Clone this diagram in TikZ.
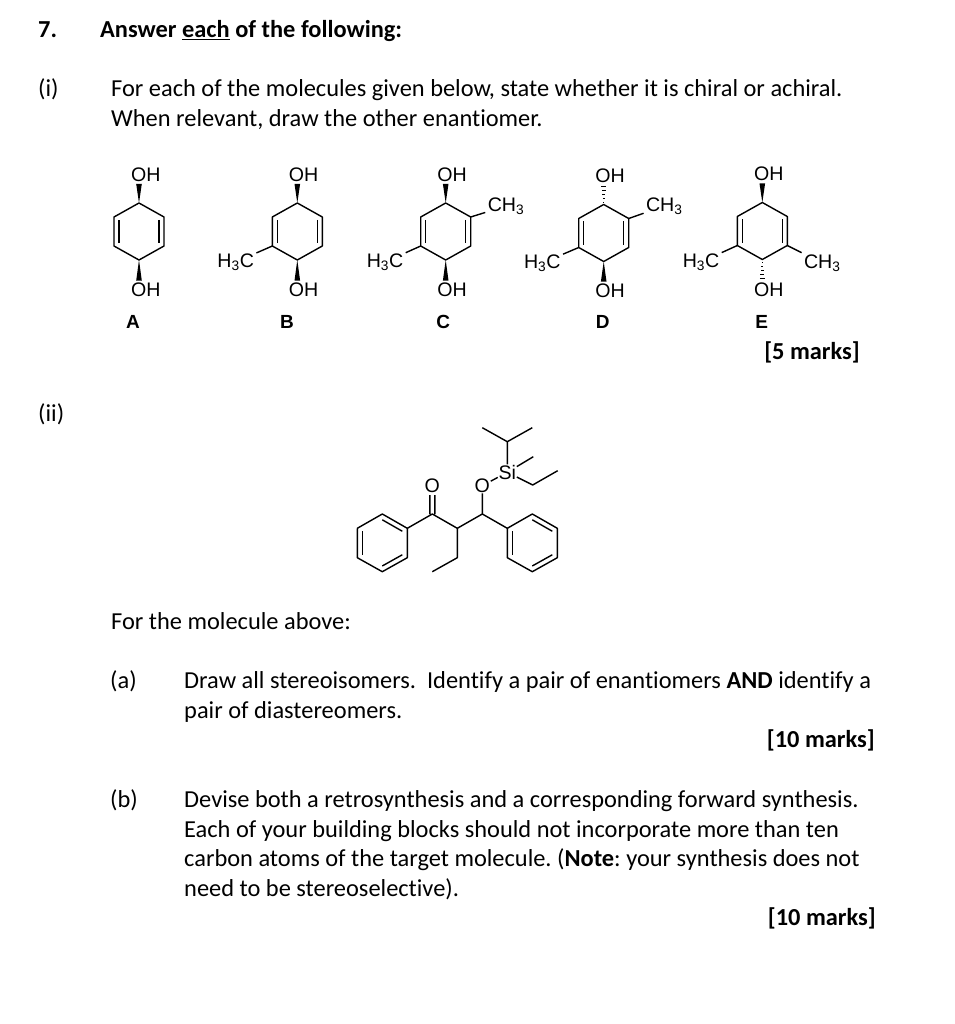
\documentclass[tikz,border=0pt]{standalone}
\usepackage{fontspec}
\setmainfont[Ligatures=NoCommon]{Carlito}
\newfontfamily\chemfont{Liberation Sans}
\usetikzlibrary{calc}
\newcommand{\bodysize}{24.4pt}
\frenchspacing
\tikzset{
  bond/.style={line width=1.4pt},
  atom/.style={font=\chemfont\fontsize{19.6pt}{19.6pt}\selectfont, inner sep=2.3pt},
  letter/.style={font=\chemfont\bfseries\fontsize{19pt}{19pt}\selectfont},
  line/.style={anchor=base west, inner sep=0pt, font=\fontsize{\bodysize}{\bodysize}\selectfont},
  marks/.style={anchor=base east, inner sep=0pt, font=\bfseries\fontsize{\bodysize}{\bodysize}\selectfont}
}
% inner line of a double bond
\newcommand{\inbond}[3]{\draw[bond] ($(#1)!.2!(#3)$) to ($(#2)!.2!(#3)$);}
\newcommand{\wedgebond}[2]{\fill (#1) -- ($(#2)+(-2.8pt,0)$) -- ($(#2)+(2.8pt,0)$) -- cycle;}
\newcommand{\hashbond}[2]{\foreach \t/\w in {.12/.5,.32/.9,.52/1.4,.72/1.9,.92/2.4}
  \draw[line width=.9pt] ($(#1)!\t!(#2)+(-\w pt,0)$) to ($(#1)!\t!(#2)+(\w pt,0)$);}
% six ring with its two long double bonds, top corner at #2,#3
\newcommand{\dienering}[3]{
\coordinate (#1a) at (#2,#3);
\coordinate (#1b) at (#2+25,#3+14);
\coordinate (#1c) at (#2+25,#3+43);
\coordinate (#1d) at (#2,#3+57);
\coordinate (#1e) at (#2-25,#3+43);
\coordinate (#1f) at (#2-25,#3+14);
\coordinate (#1m) at (#2,#3+28.5);
\draw[bond,line join=round] (#1a) to (#1b) to (#1c) to (#1d) to (#1e) to (#1f) to (#1a);
\inbond{#1b}{#1c}{#1m}
\inbond{#1e}{#1f}{#1m}
}

\begin{document}
\begin{tikzpicture}[x=1pt,y=-1pt]
\useasboundingbox (0,0) rectangle (954,1024);

\node (q7) at (38,38) [line] {\textbf{7.}};
\node (qhead) at (100,38) [line] {\textbf{Answer \underline{each} of the following:}};
\node (pi) at (38,97) [line] {(i)};
\node (pia) at (111,97) [line] {For each of the molecules given below, state whether it is chiral or achiral.};
\node (pib) at (111,127) [line] {When relevant, draw the other enantiomer.};
\node (mark5) at (860,359) [marks] {[5 marks]};
\node (pii) at (38,421) [line] {(ii)};
\node (above) at (111,629) [line] {For the molecule above:};
\node (pa) at (110,688) [line] {(a)};
\node (paa) at (184,688) [line] {Draw all stereoisomers.\ \ Identify a pair of enantiomers \textbf{AND} identify a};
\node (pab) at (184,718) [line] {pair of diastereomers.};
\node (mark10a) at (875,747) [marks] {[10 marks]};
\node (pb) at (110,807) [line] {(b)};
\node (pba) at (184,807) [line] {Devise both a retrosynthesis and a corresponding forward synthesis.};
\node (pbb) at (184,837) [line] {Each of your building blocks should not incorporate more than ten};
\node (pbc) at (184,866) [line] {carbon atoms of the target molecule. (\textbf{Note}: your synthesis does not};
\node (pbd) at (184,896) [line] {need to be stereoselective).};
\node (mark10b) at (876,925) [marks] {[10 marks]};

% the five diols
\dienering{A}{139}{203}
\dienering{B}{297.3}{203}
\dienering{C}{445.7}{203}
\dienering{D}{603.7}{204.5}
\dienering{E}{762.3}{202.5}

\node (Atop) at (145.7,174.5) [atom] {OH};
\node (Abot) at (145.7,290) [atom] {OH};
\node (Btop) at (303.5,174.5) [atom] {OH};
\node (Bbot) at (303.5,290) [atom] {OH};
\node (Ctop) at (452,174.5) [atom] {OH};
\node (Cbot) at (452,290) [atom] {OH};
\node (Dtop) at (610,175.5) [atom] {OH};
\node (Dbot) at (610,291) [atom] {OH};
\node (Etop) at (768.7,174) [atom] {OH};
\node (Ebot) at (768.7,289.5) [atom] {OH};

\node (Bme) at (235.7,262) [atom] {H\textsubscript{3}C};
\node (Cme) at (385,262) [atom] {H\textsubscript{3}C};
\node (Cmf) at (506,206) [atom] {CH\textsubscript{3}};
\node (Dme) at (542.3,263) [atom] {H\textsubscript{3}C};
\node (Dmf) at (664.3,206) [atom] {CH\textsubscript{3}};
\node (Eme) at (701,262) [atom] {H\textsubscript{3}C};
\node (Emf) at (822.3,263) [atom] {CH\textsubscript{3}};

\wedgebond{Aa}{Aa |- Atop.south}
\wedgebond{Ad}{Ad |- Abot.north}
\wedgebond{Ba}{Ba |- Btop.south}
\wedgebond{Bd}{Bd |- Bbot.north}
\wedgebond{Ca}{Ca |- Ctop.south}
\wedgebond{Cd}{Cd |- Cbot.north}
\hashbond{Da}{Da |- Dtop.south}
\wedgebond{Dd}{Dd |- Dbot.north}
\wedgebond{Ea}{Ea |- Etop.south}
\hashbond{Ed}{Ed |- Ebot.north}

\draw[bond]
(Be) to (Bme)
(Ce) to (Cme)
(Cb) to (Cmf)
(De) to (Dme)
(Db) to (Dmf)
(Ee) to (Eme)
(Ec) to (Emf);

\node (labA) at (133,322) [letter] {A};
\node (labB) at (287,322) [letter] {B};
\node (labC) at (443.3,322) [letter] {C};
\node (labD) at (602.7,322) [letter] {D};
\node (labE) at (761.7,322) [letter] {E};

% the silyl ether
\coordinate (p1) at (357.3,528.3);
\coordinate (p2) at (382.3,514);
\coordinate (p3) at (407.3,528.3);
\coordinate (p4) at (407.3,557.7);
\coordinate (p5) at (382.3,571.7);
\coordinate (p6) at (357.3,557.7);
\coordinate (pm) at (382.3,543);
\coordinate (r1) at (507.3,528.3);
\coordinate (r2) at (532.3,514);
\coordinate (r3) at (557.3,528.3);
\coordinate (r4) at (557.3,557.7);
\coordinate (r5) at (532.3,571.7);
\coordinate (r6) at (507.3,557.7);
\coordinate (rm) at (532.3,543);
\coordinate (co) at (432.3,514);
\coordinate (ch) at (457.3,528.3);
\coordinate (et1) at (457.3,557.7);
\coordinate (et2) at (432.3,571.7);
\coordinate (cs) at (482.3,514);
\coordinate (ip) at (507.3,441.7);
\coordinate (ip1) at (482.3,427.7);
\coordinate (ip2) at (532.3,427.7);
\coordinate (me) at (533.3,456.7);
\coordinate (ee1) at (532.7,485);
\coordinate (ee2) at (557.7,470.7);
\node (O1) at (432.3,485.7) [atom] {O};
\node (O2) at (482.3,485.7) [atom,inner sep=.6pt] {O};
\node (Si) at (507.3,472.3) [atom,inner sep=.6pt] {Si};

\draw[bond,line join=round]
(p1) to (p2) to (p3) to (p4) to (p5) to (p6) to (p1)
(r1) to (r2) to (r3) to (r4) to (r5) to (r6) to (r1)
(p3) to (co) to (ch) to (cs) to (r1)
(ch) to (et1) to (et2)
(cs) to (O2)
(O2) to (Si)
(Si) to (ip)
(ip1) to (ip) to (ip2)
(Si) to (me)
(Si) to (ee1) to (ee2)
($(co)+(-2.5,0)$) to ($(O1.south)+(-2.5,0)$)
($(co)+(2.5,0)$) to ($(O1.south)+(2.5,0)$);
\inbond{p1}{p6}{pm}
\inbond{p2}{p3}{pm}
\inbond{p4}{p5}{pm}
\inbond{r1}{r6}{rm}
\inbond{r2}{r3}{rm}
\inbond{r4}{r5}{rm}
\end{tikzpicture}
\end{document}
